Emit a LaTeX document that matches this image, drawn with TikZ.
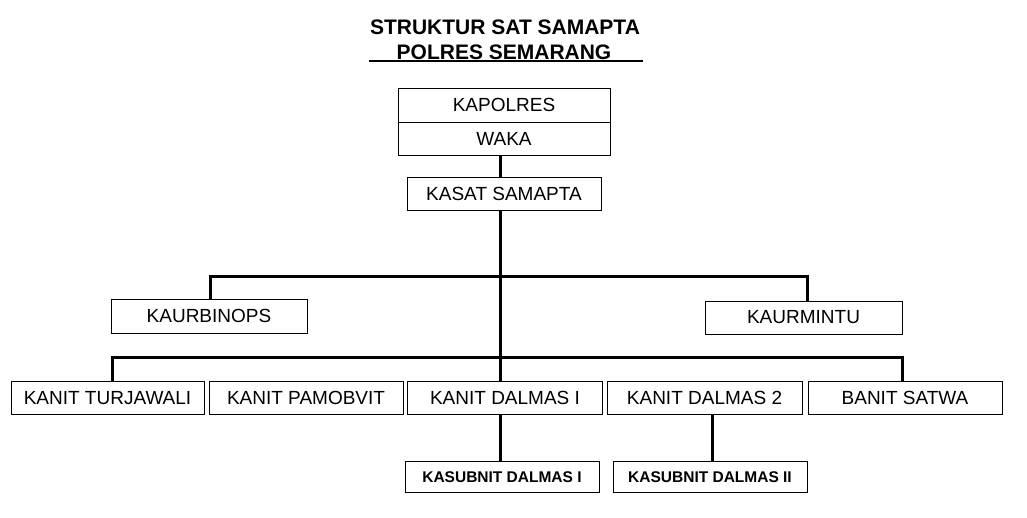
\documentclass[tikz,border=0pt]{standalone}
\usepackage{fontspec}
\setmainfont{Liberation Sans}
\begin{document}
\begin{tikzpicture}[x=1pt,y=-1pt,
  box/.style={draw=black,line width=0.9pt,minimum height=33pt,inner sep=0pt,
    font=\fontsize{19}{21}\selectfont,text=black},
  subbox/.style={box,minimum height=31pt,font=\bfseries\fontsize{15.5}{18}\selectfont},
  conn/.style={line width=3pt,draw=black},
  titletext/.style={font=\bfseries\fontsize{21}{24}\selectfont,inner sep=0pt}]
\useasboundingbox (0,0) rectangle (1027,518);
\fill[white] (0,0) rectangle (1027,518);
% title
\node[titletext] (t1) at (505,27) {STRUKTUR SAT SAMAPTA};
\node[titletext] (t2) at (504,52) {POLRES SEMARANG};
\draw[line width=1.5pt] (369,61) -- (643,61);
% top boxes
\node[box,minimum width=212pt,minimum height=34pt] (kap) at (504,105) {KAPOLRES};
\node[box,minimum width=212pt] (waka) at (504,138.5) {WAKA};
\node[box,minimum width=194pt] (kasat) at (504,193.5) {KASAT SAMAPTA};
% level 2
\node[box,minimum width=196pt,minimum height=34pt] (binops) at (209,316) {KAURBINOPS};
\node[box,minimum width=197pt] (mintu) at (803.5,317.5) {KAURMINTU};
% level 3
\node[box,minimum width=193pt] (turj) at (107.5,398) {KANIT TURJAWALI};
\node[box,minimum width=194pt] (pamo) at (306,398) {KANIT PAMOBVIT};
\node[box,minimum width=195pt] (dal1) at (505,398) {KANIT DALMAS I};
\node[box,minimum width=195pt] (dal2) at (704.5,398) {KANIT DALMAS 2};
\node[box,minimum width=194pt] (satwa) at (905,398) {BANIT SATWA};
% level 4
\node[subbox,minimum width=194pt] (sub1) at (502,477) {KASUBNIT DALMAS I};
\node[subbox,minimum width=194pt] (sub2) at (710,477) {KASUBNIT DALMAS II};
% junction coordinates
\coordinate (j1) at (500,277);
\coordinate (j2) at (500,357);
% connectors
\draw[conn] ([xshift=-4pt]waka.south) -- ([xshift=-4pt]kasat.north);
\draw[conn] ([xshift=-4pt]kasat.south) -- (j1) -- (j2) -- (dal1.north -| j2);
\draw[conn] (binops.north -| 210,0) |- (j1) -| (mintu.north -| 807,0);
\draw[conn] (turj.north -| 112,0) |- (j2) -| (satwa.north -| 902,0);
\draw[conn] (pamo.north -| 315,0) -- (pamo.north -| 315,357);
\draw[conn] (dal2.north -| 712,0) -- (dal2.north -| 712,357);
\draw[conn] (dal1.south -| 500,0) -- (sub1.north -| 500,0);
\draw[conn] (dal2.south -| 712,0) -- (sub2.north -| 712,0);
\end{tikzpicture}
\end{document}
